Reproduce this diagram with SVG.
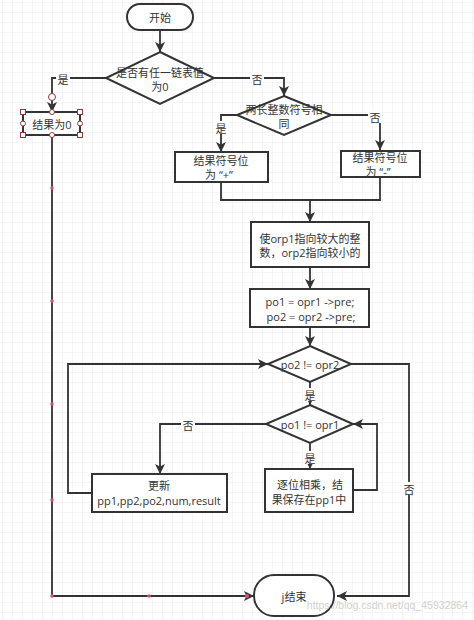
<svg xmlns="http://www.w3.org/2000/svg" width="474" height="620" viewBox="0 0 474 620">
<defs>
<pattern id="grid" width="10" height="10" patternUnits="userSpaceOnUse" x="2" y="2">
<path d="M10 0 L0 0 0 10" fill="none" stroke="#ececec" stroke-width="1"/>
</pattern>
<marker id="arr" viewBox="0 0 10 10" refX="10" refY="5" markerWidth="10" markerHeight="10" markerUnits="userSpaceOnUse" orient="auto">
<path d="M0 0 L10 5 L0 10 L2.5 5 Z" fill="#333"/>
</marker>
</defs>
<style>
.n{fill:#fff;stroke:#333;stroke-width:2}
.c{fill:none;stroke:#333;stroke-width:1.8}
.t{font-family:"Open Sans","Noto Sans CJK SC",sans-serif;font-size:11px;fill:#333;text-anchor:middle;dominant-baseline:central}
.l{font-family:"Noto Sans CJK SC",sans-serif;font-size:11px;fill:#333;text-anchor:middle;dominant-baseline:central}
.h{fill:#fff;stroke:#8a3a3a;stroke-width:1}
.r{fill:#e0506a}
</style>
<rect width="474" height="620" fill="#fff"/>
<rect width="474" height="620" fill="url(#grid)"/>
<g id="connectors">
<path class="c" d="M160 30 V52" marker-end="url(#arr)"/>
<path class="c" d="M106 78 H52 V112" marker-end="url(#arr)"/>
<path class="c" d="M214 78 H284 V96" marker-end="url(#arr)"/>
<path class="c" d="M237 115 H221 V152" marker-end="url(#arr)"/>
<path class="c" d="M331 115 H380 V150" marker-end="url(#arr)"/>
<path class="c" d="M221 182 V200 H310"/>
<path class="c" d="M380 177 V200 H310 V222" marker-end="url(#arr)"/>
<path class="c" d="M310 267 V289" marker-end="url(#arr)"/>
<path class="c" d="M310 327 V346" marker-end="url(#arr)"/>
<path class="c" d="M310 382 V405" marker-end="url(#arr)"/>
<path class="c" d="M266 424 H160 V474" marker-end="url(#arr)"/>
<path class="c" d="M310 443 V469" marker-end="url(#arr)"/>
<path class="c" d="M353 490 H377 V424 H353" marker-end="url(#arr)"/>
<path class="c" d="M92 493 H68 V364 H268" marker-end="url(#arr)"/>
<path class="c" d="M351 364 H409 V596 H337" marker-end="url(#arr)"/>
<path class="c" d="M52 135 V596 H254" marker-end="url(#arr)"/>
<rect x="56" y="73" width="14" height="13" fill="#fff"/>
<text class="l" x="63" y="79">是</text>
<rect x="250" y="72" width="14" height="13" fill="#fff"/>
<text class="l" x="257" y="79">否</text>
<rect x="214" y="121" width="14" height="13" fill="#fff"/>
<text class="l" x="221" y="128">是</text>
<rect x="368" y="110" width="14" height="13" fill="#fff"/>
<text class="l" x="375" y="117">否</text>
<rect x="303" y="388" width="14" height="13" fill="#fff"/>
<text class="l" x="310" y="395">是</text>
<rect x="181" y="418" width="14" height="13" fill="#fff"/>
<text class="l" x="188" y="425">否</text>
<rect x="303" y="451" width="14" height="13" fill="#fff"/>
<text class="l" x="310" y="458">是</text>
<rect x="402" y="482" width="14" height="13" fill="#fff"/>
<text class="l" x="409" y="489">否</text>
<circle class="r" cx="52" cy="188" r="1.8"/>
<circle class="r" cx="52" cy="301" r="1.8"/>
<circle class="r" cx="52" cy="404" r="1.8"/>
<circle class="r" cx="52" cy="500" r="1.8"/>
<circle class="r" cx="52" cy="596" r="1.8"/>
<circle class="r" cx="149" cy="596" r="1.8"/>
<circle class="r" cx="247" cy="596" r="2"/>
</g>
<g id="start">
<rect class="n" x="127" y="4" width="66" height="26" rx="13"/>
<text class="t" x="160" y="17">开始</text>
</g>
<g id="d1">
<path class="n" d="M160 52 L214 78 L160 104 L106 78 Z"/>
<text class="t" x="160" y="72">是否有任一链表值</text>
<text class="t" x="160" y="86">为0</text>
</g>
<g id="zero">
<rect class="n" x="23" y="112" width="57" height="23" stroke="#4a2a2a"/>
<text class="t" x="52" y="124">结果为0</text>
<circle class="h" cx="52" cy="97" r="3.5"/>
<rect class="h" x="20.5" y="109.5" width="5" height="5"/>
<rect class="h" x="77.5" y="109.5" width="5" height="5"/>
<rect class="h" x="20.5" y="132.5" width="5" height="5"/>
<rect class="h" x="77.5" y="132.5" width="5" height="5"/>
<circle class="h" cx="52" cy="112" r="2.5"/>
<circle class="h" cx="52" cy="135" r="2.5"/>
<circle class="h" cx="23" cy="123.5" r="2.5"/>
<circle class="h" cx="80" cy="123.5" r="2.5"/>
</g>
<g id="d2">
<path class="n" d="M284 96 L331 115 L284 135 L237 115 Z"/>
<text class="t" x="284" y="109">两长整数符号相</text>
<text class="t" x="284" y="123" fill="#333">同</text>
</g>
<g id="plus">
<rect class="n" x="175" y="152" width="93" height="30"/>
<text class="t" x="221" y="160">结果符号位</text>
<text class="t" x="219" y="174">为 “+”</text>
</g>
<g id="minus">
<rect class="n" x="341" y="151" width="79" height="26"/>
<text class="t" x="380" y="157">结果符号位</text>
<text class="t" x="378" y="171">为 “-”</text>
</g>
<g id="swap">
<rect class="n" x="251" y="222" width="118" height="45"/>
<text class="t" x="310" y="238">使orp1指向较大的整</text>
<text class="t" x="310" y="252">数，orp2指向较小的</text>
</g>
<g id="init">
<rect class="n" x="250" y="289" width="119" height="38"/>
<text class="t" x="310" y="301">po1 = opr1 -&gt;pre;</text>
<text class="t" x="311" y="316">po2 = opr2 -&gt;pre;</text>
</g>
<g id="d3">
<path class="n" d="M310 346 L351 364 L310 382 L268 364 Z"/>
<text class="t" x="310" y="364">po2 != opr2</text>
</g>
<g id="d4">
<path class="n" d="M310 405 L353 424 L310 443 L266 424 Z"/>
<text class="t" x="310" y="424">po1 != opr1</text>
</g>
<g id="mult">
<rect class="n" x="265" y="469" width="88" height="43"/>
<text class="t" x="310" y="484">逐位相乘，结</text>
<text class="t" x="309" y="499">果保存在pp1中</text>
</g>
<g id="update">
<rect class="n" x="92" y="474" width="135" height="38"/>
<text class="t" x="159" y="485">更新</text>
<text class="t" x="159" y="500">pp1,pp2,po2,num,result</text>
</g>
<g id="end">
<rect class="n" x="254" y="575" width="80" height="41" rx="20"/>
<text class="t" x="294" y="596">j结束</text>
</g>
<text x="468" y="609" font-family="Liberation Sans,sans-serif" font-size="10.5" fill="#d0d0d0" text-anchor="end">https://blog.csdn.net/qq_45932864</text>
</svg>
